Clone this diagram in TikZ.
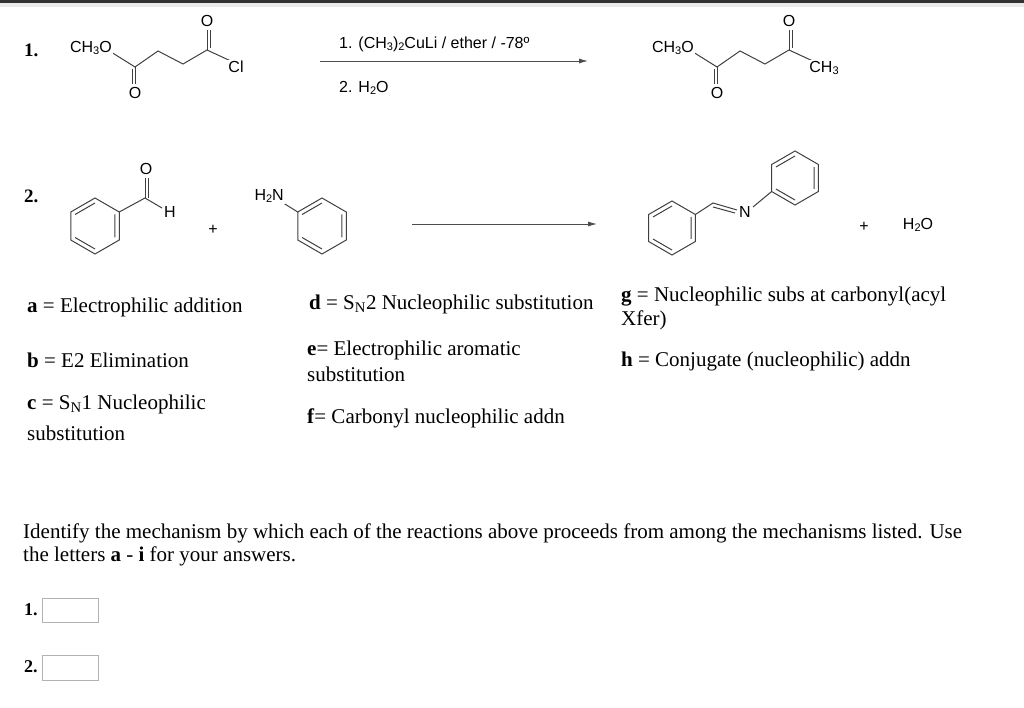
\documentclass[tikz,border=0pt]{standalone}
\usepackage{fontspec}
\usetikzlibrary{arrows.meta}
\setmainfont{Liberation Serif}
\newfontfamily\arial{Liberation Sans}
\newcommand{\sbs}[1]{\raisebox{-0.3ex}{\fontsize{11}{12}\selectfont #1}}
\begin{document}
\begin{tikzpicture}[x=1pt,y=-1pt,
 bd/.style={line width=1pt,draw=black!75},
 atm/.style={font=\arial\fontsize{16}{18}\selectfont,inner sep=1pt,fill=white},
 tx/.style={font=\fontsize{21}{24}\selectfont,anchor=west,inner sep=0pt},
 ar/.style={line width=0.9pt,-{Latex[length=9pt,width=5pt]},draw=black!70}]
\useasboundingbox (0,0) rectangle (1024,708);
\fill[black!80] (0,0) rectangle (1024,3);
\fill[black!8] (0,3) rectangle (1024,7);
% reaction 1
\node[tx,font=\bfseries\fontsize{19}{22}\selectfont] (n1) at (24,50) {1.};
\foreach \s/\nm in {0/r,582/p}{
\begin{scope}[xshift=\s]
\coordinate (\nm o) at (111,52);
\coordinate (\nm c1) at (135,67);
\coordinate (\nm c2) at (158,51);
\coordinate (\nm c3) at (183,64);
\coordinate (\nm c4) at (207,50);
\draw[bd] (\nm o)--(\nm c1)--(\nm c2)--(\nm c3)--(\nm c4)--(233,62);
\draw[bd] (\nm c1)--(135,84) (132,69)--(132,84);
\draw[bd] (\nm c4)--(207,30) (210,48)--(210,30);
\node[atm] at (135,93) {O};
\node[atm] at (207,21) {O};
\end{scope}}
\node[atm,anchor=east] (m1) at (113,48) {CH\sbs{3}O};
\node[atm] (cl) at (236,67) {Cl};
\node[atm,anchor=east] (m2) at (695,48) {CH\sbs{3}O};
\node[atm] (ch3) at (824,68) {CH\sbs{3}};
\draw[ar] (320,61) coordinate (a1s) -- (588,61) coordinate (a1e);
\node[atm,anchor=west,fill=none] (t1) at (338,44) {1. (CH\sbs{3})\sbs{2}CuLi / ether / -78º};
\node[atm,anchor=west,fill=none] (t2) at (338,88) {2. H\sbs{2}O};
% reaction 2
\node[tx,font=\bfseries\fontsize{19}{22}\selectfont] (n2) at (24,196) {2.};
\def\ring#1#2#3{\draw[bd] (#1,#2) +(90:#3)--+(30:#3)--+(-30:#3)--+(-90:#3)--+(-150:#3)--+(150:#3)--cycle;
 \draw[bd] (#1,#2) +(30:{#3-5})--+(-30:{#3-5}) +(-90:{#3-5})--+(-150:{#3-5}) +(150:{#3-5})--+(90:{#3-5});}
\ring{95}{226}{28}
\draw[bd] (95,226)+(-30:28)--(145,198)--(162,208);
\draw[bd] (145,198)--(145,178) (148,198)--(148,178);
\node[atm] (o2) at (146,169) {O};
\node[atm] (h2) at (170,212) {H};
\node[atm,fill=none] (pl1) at (213,230) {+};
\ring{322}{226}{28}
\draw[bd] (322,226)+(-150:28)--(280,201);
\node[atm,anchor=east] (nh2) at (285,196) {H\sbs{2}N};
\draw[ar] (412,224) -- (597,224);
\ring{672}{228}{27}
\draw[bd] (672,228)+(-30:27)--(713,203)--(737,210);
\draw[bd] (713,207)--(735,213);
\node[atm] (n) at (745,212) {N};
\ring{795}{178}{27}
\draw[bd] (795,178)+(150:27)--(753,207);
\node[atm,fill=none] (pl2) at (864,227) {+};
\node[atm,fill=none] (h2o) at (918,225) {H\sbs{2}O};
% list
\node[tx] at (27,307) {\textbf{a} = Electrophilic addition};
\node[tx] at (27,360) {\textbf{b} = E2 Elimination};
\node[tx] at (27,404) {\textbf{c} = S$_\mathrm{N}$1 Nucleophilic};
\node[tx] at (27,433) {substitution};
\node[tx] at (309,304) {\textbf{d} = S$_\mathrm{N}$2 Nucleophilic substitution};
\node[tx] at (307,350) {\textbf{e}= Electrophilic aromatic};
\node[tx] at (307,374) {substitution};
\node[tx] at (307,418) {\textbf{f}= Carbonyl nucleophilic addn};
\node[tx] at (621,297) {\textbf{g} = Nucleophilic subs at carbonyl(acyl};
\node[tx] at (621,320) {Xfer)};
\node[tx] at (621,361) {\textbf{h} = Conjugate (nucleophilic) addn};
\node[tx] at (23,533) {Identify the mechanism by which each of the reactions above proceeds from among the mechanisms listed. Use};
\node[tx] at (23,556) {the letters \textbf{a} - \textbf{i} for your answers.};
\node[tx,font=\bfseries\fontsize{18}{20}\selectfont] at (24,610) {1.};
\node[tx,font=\bfseries\fontsize{18}{20}\selectfont] at (24,667) {2.};
\draw[black!30] (42,598) rectangle (98,622);
\draw[black!30] (42,655) rectangle (98,680);
\end{tikzpicture}
\end{document}
